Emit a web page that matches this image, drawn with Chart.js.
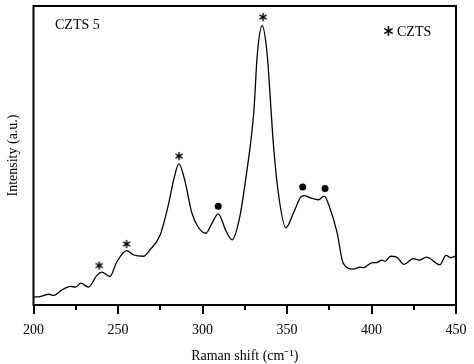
<!DOCTYPE html>
<html>
<head>
<meta charset="utf-8">
<script src="https://cdn.jsdelivr.net/npm/chart.js@4.4.0/dist/chart.umd.min.js"></script>
<style>
  html, body { margin: 0; padding: 0; background: #fff; }
  #wrap { width: 474px; height: 364px; }
</style>
</head>
<body>
<div id="wrap"><canvas id="raman"></canvas></div>
<script>
// Raman spectrum (intensity in arbitrary units, 0-100)
var ramanShift = [200, 204, 209, 212, 217, 222, 225, 228, 232.5, 237.5, 240.3, 245.2, 249.2, 255.1, 259, 265,
  269, 275, 280, 283, 286, 289.6, 293.6, 297.5, 302, 305.4, 309.3, 313.8, 317.6, 322, 326, 328.6, 330.4,
  332.4, 335.3, 338.3, 340.6, 341.8, 344.7, 349.3, 353.6, 358, 360, 364, 368.6, 372, 375, 379.6, 383.3,
  389.2, 393.2, 395.2, 400.1, 403.1, 406, 408, 411.3, 414.9, 419.2, 424.7, 428.3, 432.6, 440.5, 444.1, 446.9, 450];
var intensity = [2.7, 2.8, 3.6, 3.2, 5.1, 6.2, 6.0, 7.3, 6.0, 9.9, 11.0, 9.5, 14.3, 18.2, 16.8, 16.3,
  18.5, 23.5, 34, 42, 47.2, 41.5, 31, 26, 24, 27.1, 30.5, 24.9, 21.8, 29.3, 43.8, 54.8, 64.8,
  83.6, 93.4, 83.6, 64.8, 54.8, 38.2, 25.8, 30.5, 36, 36.6, 35.8, 35.2, 36.4, 33, 24.3, 13.9,
  12.0, 12.7, 12.5, 14.1, 14.2, 15.0, 14.6, 16.3, 16.0, 13.6, 15.5, 15.0, 16.0, 13.5, 16.6, 15.8, 16.4];

// peak markers
var starX = [238.9, 255.1, 286.1, 335.8];
var starY = [13.2, 20.4, 49.8, 96.3];
var dotX = [309.3, 359.3, 372.5];
var dotY = [33.0, 39.5, 39.0];

var xTicks = [200, 225, 250, 275, 300, 325, 350, 375, 400, 425, 450];

var serif = "'Liberation Serif', 'Times New Roman', serif";

function drawAsterisk(c, cx, cy, r, w) {
  c.save();
  c.strokeStyle = '#000';
  c.lineWidth = w;
  c.lineCap = 'round';
  for (var i = 0; i < 3; i++) {
    var a = Math.PI / 2 + i * Math.PI / 3;
    c.beginPath();
    c.moveTo(cx - r * Math.cos(a), cy - r * Math.sin(a));
    c.lineTo(cx + r * Math.cos(a), cy + r * Math.sin(a));
    c.stroke();
  }
  c.restore();
}

var starImg = document.createElement('canvas');
starImg.width = 10; starImg.height = 10;
drawAsterisk(starImg.getContext('2d'), 5, 5, 3.6, 1.4);

function toXY(xs, ys) {
  return xs.map(function (x, i) { return {x: x, y: ys[i]}; });
}

var framePlugin = {
  id: 'frame',
  afterDraw: function (chart) {
    var c = chart.ctx, a = chart.chartArea, xs = chart.scales.x;
    c.save();
    c.strokeStyle = '#000';
    c.lineWidth = 2;
    c.strokeRect(a.left, a.top, a.right - a.left, a.bottom - a.top);
    xTicks.forEach(function (v) {
      var px = Math.round(xs.getPixelForValue(v));
      var len = (v % 50 === 0) ? 9 : 5;
      c.beginPath();
      c.moveTo(px, a.bottom);
      c.lineTo(px, a.bottom + len);
      c.stroke();
    });
    c.fillStyle = '#000';
    c.font = '14px ' + serif;
    c.textBaseline = 'middle';
    c.textAlign = 'left';
    c.fillText('CZTS 5', 55, 25);
    c.fillText('CZTS', 397, 32);
    drawAsterisk(c, 388.5, 31, 4.2, 1.6);
    c.restore();
  }
};

var ctx = document.getElementById('raman').getContext('2d');
var raman = new Chart(ctx, {
  type: 'line',
  data: {
    datasets: [{
      data: toXY(ramanShift, intensity),
      borderColor: '#000',
      borderWidth: 1.3,
      pointRadius: 0,
      cubicInterpolationMode: 'monotone',
      fill: false
    }, {
      type: 'scatter',
      data: toXY(starX, starY),
      pointStyle: starImg,
      pointRadius: 5,
      borderColor: '#000',
      backgroundColor: '#000'
    }, {
      type: 'scatter',
      data: toXY(dotX, dotY),
      pointStyle: 'circle',
      pointRadius: 3.5,
      borderWidth: 0,
      backgroundColor: '#000'
    }]
  },
  options: {
    responsive: true,
    maintainAspectRatio: false,
    animation: false,
    events: [],
    layout: { padding: { top: 4, right: 18, left: 0, bottom: 0 } },
    plugins: { legend: { display: false }, tooltip: { enabled: false } },
    scales: {
      x: {
        type: 'linear',
        min: 200,
        max: 450,
        afterFit: function (s) { s.height = 59; s.paddingLeft = 0; s.paddingRight = 0; },
        afterBuildTicks: function (s) { s.ticks = xTicks.map(function (v) { return {value: v}; }); },
        grid: { display: false, drawTicks: false },
        border: { display: false },
        ticks: {
          padding: 17,
          color: '#000',
          font: { family: serif, size: 14 },
          maxRotation: 0,
          autoSkip: false,
          callback: function (v) { return v % 50 === 0 ? String(v) : ''; }
        },
        title: {
          display: true,
          text: 'Raman shift (cm\u207B\u00B9)',
          color: '#000',
          font: { family: serif, size: 14 },
          padding: { top: 0, bottom: -1 }
        }
      },
      y: {
        min: 0,
        max: 100,
        afterFit: function (s) { s.width = 33.5; },
        grid: { display: false, drawTicks: false },
        border: { display: false },
        ticks: { display: false },
        title: {
          display: true,
          text: 'Intensity (a.u.)',
          color: '#000',
          font: { family: serif, size: 14 },
          padding: { top: 5, bottom: 0 }
        }
      }
    }
  },
  plugins: [framePlugin]
});
</script>
</body>
</html>
